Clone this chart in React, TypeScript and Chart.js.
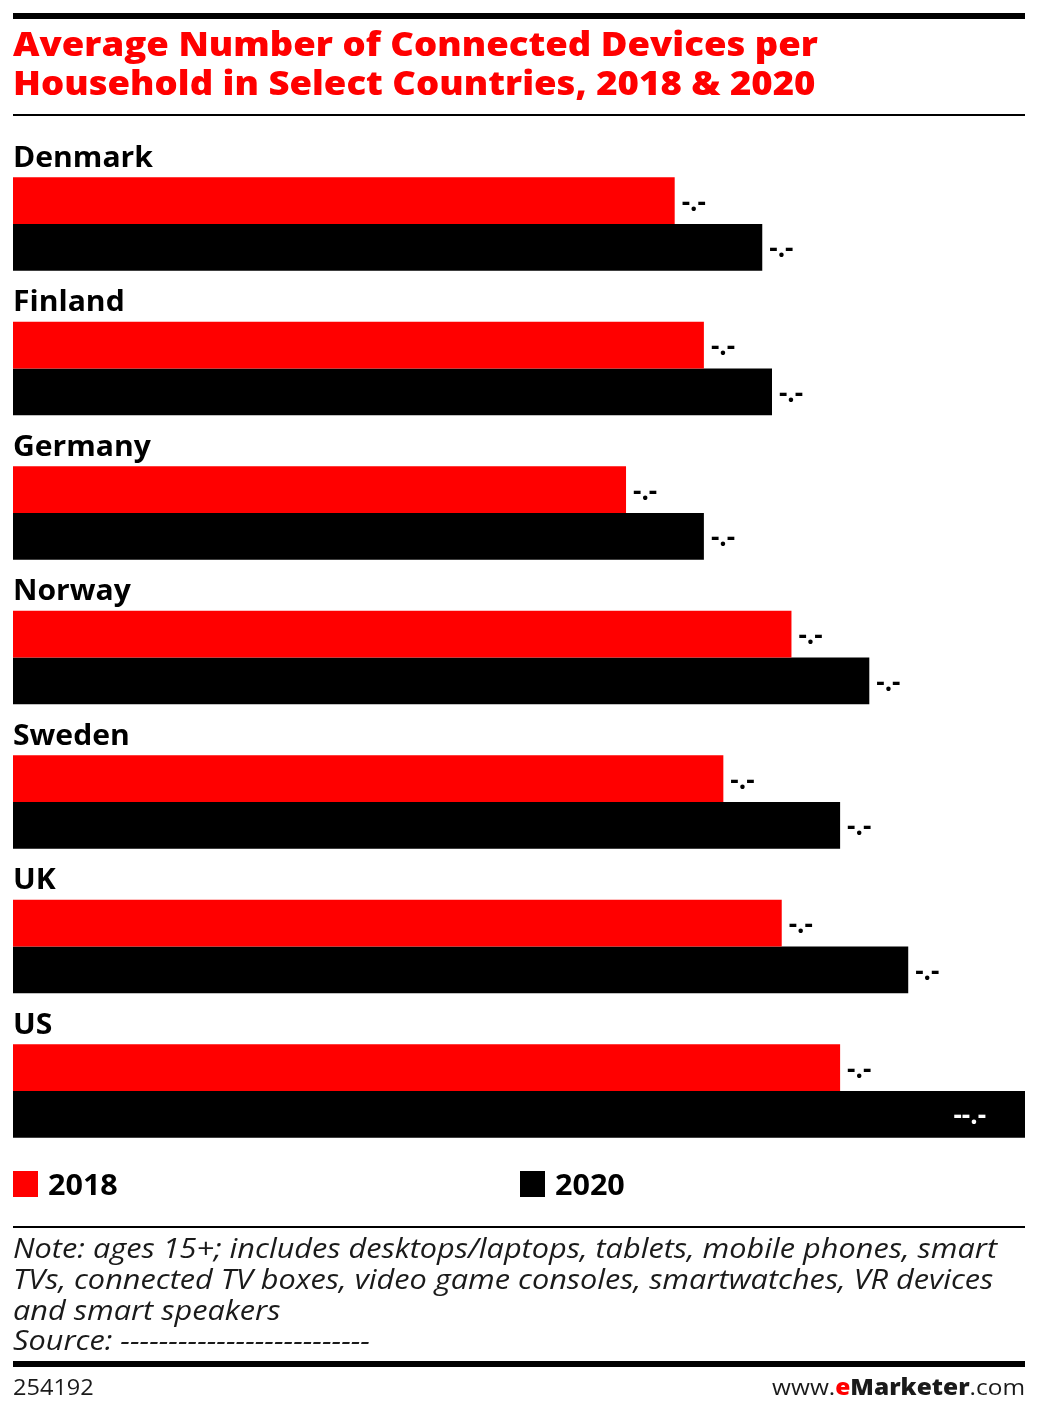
import React, { useEffect, useRef } from "react";
import { Chart, registerables } from "chart.js";

Chart.register(...registerables);

// ---- data ----
const categories = ["Denmark", "Finland", "Germany", "Norway", "Sweden", "UK", "US"];
const seriesNames = ["2018", "2020"];
const values2018 = [6.8, 7.1, 6.3, 8.0, 7.3, 7.9, 8.5];
const values2020 = [7.7, 7.8, 7.1, 8.8, 8.5, 9.2, 10.4];
const labels2018 = ["-.-", "-.-", "-.-", "-.-", "-.-", "-.-", "-.-"];
const labels2020 = ["-.-", "-.-", "-.-", "-.-", "-.-", "-.-", "--.-"];
const axisMax = 10.4;

const titleLines = [
  "Average Number of Connected Devices per",
  "Household in Select Countries, 2018 & 2020",
];
const noteLines = [
  "Note: ages 15+; includes desktops/laptops, tablets, mobile phones, smart",
  "TVs, connected TV boxes, video game consoles, smartwatches, VR devices",
  "and smart speakers",
  "Source: --------------------------",
];
const chartId = "254192";

const RED = "#ff0000";
const BLACK = "#000000";
const FONT = '"Open Sans", "Noto Sans", sans-serif';

const W = 1038;
const H = 1413;
const L = 13;
const R = 1025;

function scaledText(ctx: CanvasRenderingContext2D, t: string, x: number, y: number, sx: number) {
  ctx.save();
  ctx.translate(x, y);
  ctx.scale(sx, 1);
  ctx.fillText(t, 0, 0);
  ctx.restore();
}

const decorPlugin = {
  id: "decor",
  afterDraw(chart: any) {
    const ctx: CanvasRenderingContext2D = chart.ctx;
    const area = chart.chartArea;
    ctx.save();
    ctx.textAlign = "left";
    ctx.textBaseline = "alphabetic";

    // rules
    ctx.fillStyle = BLACK;
    ctx.fillRect(L, 13, R - L, 6);
    ctx.fillRect(L, 114, R - L, 2);
    ctx.fillRect(L, 1226, R - L, 2);
    ctx.fillRect(L, 1361, R - L, 6);

    // title
    ctx.fillStyle = RED;
    ctx.font = `800 34px ${FONT}`;
    const tw = ctx.measureText(titleLines[0]).width;
    const tsx = 805 / tw;
    scaledText(ctx, titleLines[0], L, 56, tsx);
    scaledText(ctx, titleLines[1], L, 95, tsx);

    // category labels + value labels
    const meta0 = chart.getDatasetMeta(0);
    const meta1 = chart.getDatasetMeta(1);
    ctx.font = `bold 28px ${FONT}`;
    ctx.fillStyle = BLACK;
    meta0.data.forEach((el: any, i: number) => {
      const top = el.y - el.height / 2;
      scaledText(ctx, categories[i], L, top - 10.5, 1.075);
    });
    const drawVals = (meta: any, labels: string[]) => {
      ctx.font = `bold 26px ${FONT}`;
      meta.data.forEach((el: any, i: number) => {
        const txt = labels[i];
        const w = ctx.measureText(txt).width;
        if (el.x + 7 + w > area.right) {
          ctx.fillStyle = "#ffffff";
          ctx.textAlign = "right";
          ctx.fillText(txt, el.x - 39, el.y + 10);
        } else {
          ctx.fillStyle = BLACK;
          ctx.textAlign = "left";
          ctx.fillText(txt, el.x + 7, el.y + 10);
        }
      });
      ctx.textAlign = "left";
    };
    drawVals(meta0, labels2018);
    drawVals(meta1, labels2020);

    // legend
    ctx.fillStyle = RED;
    ctx.fillRect(L, 1171, 25, 26);
    ctx.fillStyle = BLACK;
    ctx.fillRect(520, 1171, 25, 26);
    ctx.font = `bold 28px ${FONT}`;
    scaledText(ctx, seriesNames[0], 48, 1195, 1.09);
    scaledText(ctx, seriesNames[1], 555, 1195, 1.09);

    // notes
    ctx.fillStyle = "#1a1a1a";
    ctx.font = `italic 27px ${FONT}`;
    const noteBase = [1258, 1289, 1320, 1350];
    noteLines.forEach((t, i) => scaledText(ctx, t, L, noteBase[i], 1.136));

    // footer
    ctx.font = `22px ${FONT}`;
    ctx.fillStyle = "#1a1a1a";
    scaledText(ctx, chartId, L, 1395, 1.07);
    const parts = [
      { t: "www.", f: `22px ${FONT}`, c: "#1a1a1a" },
      { t: "e", f: `800 22px ${FONT}`, c: RED },
      { t: "Marketer", f: `800 22px ${FONT}`, c: "#1a1a1a" },
      { t: ".com", f: `22px ${FONT}`, c: "#1a1a1a" },
    ];
    const usx = 1.11;
    let total = 0;
    parts.forEach((p) => {
      ctx.font = p.f;
      total += ctx.measureText(p.t).width * usx;
    });
    let x = R - total;
    parts.forEach((p) => {
      ctx.font = p.f;
      ctx.fillStyle = p.c;
      scaledText(ctx, p.t, x, 1395, usx);
      x += ctx.measureText(p.t).width * usx;
    });
    ctx.restore();
  },
};

export default function App() {
  const ref = useRef<HTMLCanvasElement | null>(null);
  useEffect(() => {
    document.body.style.margin = "0";
    const canvas = ref.current;
    if (!canvas) return;
    const chart = new Chart(canvas, {
      type: "bar",
      data: {
        labels: categories,
        datasets: [
          {
            label: seriesNames[0],
            data: values2018,
            backgroundColor: RED,
            borderWidth: 0,
            categoryPercentage: 0.646,
            barPercentage: 1,
          },
          {
            label: seriesNames[1],
            data: values2020,
            backgroundColor: BLACK,
            borderWidth: 0,
            categoryPercentage: 0.646,
            barPercentage: 1,
          },
        ],
      },
      options: {
        indexAxis: "y",
        responsive: false,
        animation: false,
        events: [],
        layout: {
          padding: { left: L, right: W - R, top: 151.75, bottom: H - 1163.25 },
        },
        scales: {
          x: { display: false, min: 0, max: axisMax, grid: { display: false } },
          y: { display: false, grid: { display: false } },
        },
        plugins: {
          legend: { display: false },
          tooltip: { enabled: false },
        },
      },
      plugins: [decorPlugin],
    });
    return () => chart.destroy();
  }, []);
  return (
    <div style={{ position: "relative", width: W, height: H, background: "#fff" }}>
      <canvas ref={ref} width={W} height={H} style={{ display: "block", width: W, height: H }} />
    </div>
  );
}
